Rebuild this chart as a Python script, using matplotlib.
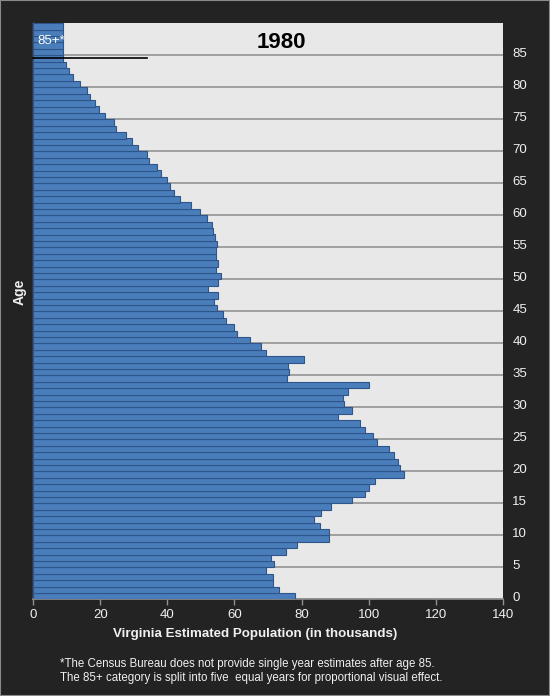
import matplotlib
matplotlib.use("Agg")
import matplotlib.pyplot as plt
from matplotlib.patches import Rectangle
import numpy as np

plt.rcParams['font.family'] = ['Liberation Sans', 'DejaVu Sans']

title = "1980"
ages = list(range(90))
population = [
    78.0, 73.2, 71.5, 71.5, 69.4, 71.8, 70.9, 75.3, 78.6, 88.2,
    88.2, 85.5, 83.7, 85.8, 88.8, 95.0, 98.9, 100.1, 101.9, 110.6,
    109.4, 108.8, 107.6, 106.1, 102.5, 101.3, 98.9, 97.4, 90.9, 95.2,
    92.8, 92.3, 93.8, 100.1, 75.6, 76.4, 76.1, 80.6, 69.3, 67.8,
    64.5, 60.9, 60.0, 57.6, 56.7, 54.9, 54.0, 55.2, 52.2, 55.2,
    56.1, 54.6, 55.2, 54.6, 54.6, 54.9, 54.3, 53.7, 53.4, 51.9,
    49.6, 46.9, 43.9, 42.1, 40.9, 40.0, 38.2, 37.0, 34.6, 34.0,
    31.3, 29.3, 27.5, 24.8, 24.2, 21.5, 19.7, 18.5, 17.0, 16.1,
    14.0, 11.9, 10.7, 9.9, 9.0, 8.8, 8.8, 8.8, 8.8, 8.8,
]
age_ticks = list(range(0, 90, 5))
x_ticks = [0, 20, 40, 60, 80, 100, 120, 140]
xlabel = "Virginia Estimated Population (in thousands)"
ylabel = "Age"
note_lines = [
    "*The Census Bureau does not provide single year estimates after age 85.",
    "The 85+ category is split into five  equal years for proportional visual effect.",
]
label_85 = "85+*"

W, H = 550, 696
fig = plt.figure(figsize=(W / 100, H / 100), dpi=100, facecolor='#232323')
fig.patches.append(Rectangle((0, 0), 1, 1, transform=fig.transFigure,
                             facecolor='none', edgecolor='#8a8a8a', linewidth=1.5))

left, right = 33.3 / W, 502.7 / W
bottom, top = 1 - 599.3 / H, 1 - 23.3 / H
ax = fig.add_axes([left, bottom, right - left, top - bottom])
ax.set_facecolor('#e8e8e8')

ages_arr = np.array(ages)
ax.barh(ages_arr + 0.5, population, height=1.0, color='#4a7ebb',
        edgecolor='#2d5589', linewidth=0.8, zorder=3)

ax.set_xlim(0, 140)
ax.set_ylim(0, 90)

# gridlines at major ticks, labels at minor ticks (half-offset)
ax.set_yticks(age_ticks)
ax.set_yticklabels([])
ax.set_yticks(np.array(age_ticks) + 0.5, minor=True)
ax.set_yticklabels([str(a) for a in age_ticks], minor=True)
ax.yaxis.tick_right()
ax.tick_params(axis='y', which='both', length=0, colors='#f0f0f0', labelsize=9.5, pad=7)
ax.grid(axis='y', which='major', color='#8c8c8c', linewidth=1.1, zorder=1)

ax.set_xticks(x_ticks)
ax.set_xticklabels([str(v) for v in x_ticks])
ax.tick_params(axis='x', length=4, width=1, color='#909090', colors='#f0f0f0',
               labelsize=9.5, pad=3)
ax.tick_params(axis='x', color='#909090')

for s in ['top', 'right']:
    ax.spines[s].set_visible(False)
ax.spines['bottom'].set_color('#909090')
ax.spines['bottom'].set_linewidth(1.2)
ax.spines['left'].set_color('#909090')
ax.spines['left'].set_linewidth(1.0)

ax.text(0.529, 0.966, title, transform=ax.transAxes, ha='center', va='center',
        fontsize=16, fontweight='bold', color='black', zorder=5)

ax.text(1.1, 87.2, label_85, ha='left', va='center', fontsize=9.5,
        color='white', zorder=5)
ax.plot([0, 33.9], [84.53, 84.53], color='black', linewidth=1.2, zorder=6,
        clip_on=False)

fig.text(255 / W, 1 - 634 / H, xlabel, ha='center', va='center', fontsize=9.6,
         fontweight='bold', color='#f0f0f0')
fig.text(20 / W, 1 - 292 / H, ylabel, ha='center', va='center', rotation=90,
         fontsize=10, fontweight='bold', color='#f0f0f0')
for i, line in enumerate(note_lines):
    fig.text(60 / W, 1 - (663.5 + 15 * i) / H, line, ha='left', va='center',
             fontsize=8.3, color='#f0f0f0')

fig.savefig('out.png', dpi=100, facecolor=fig.get_facecolor())
